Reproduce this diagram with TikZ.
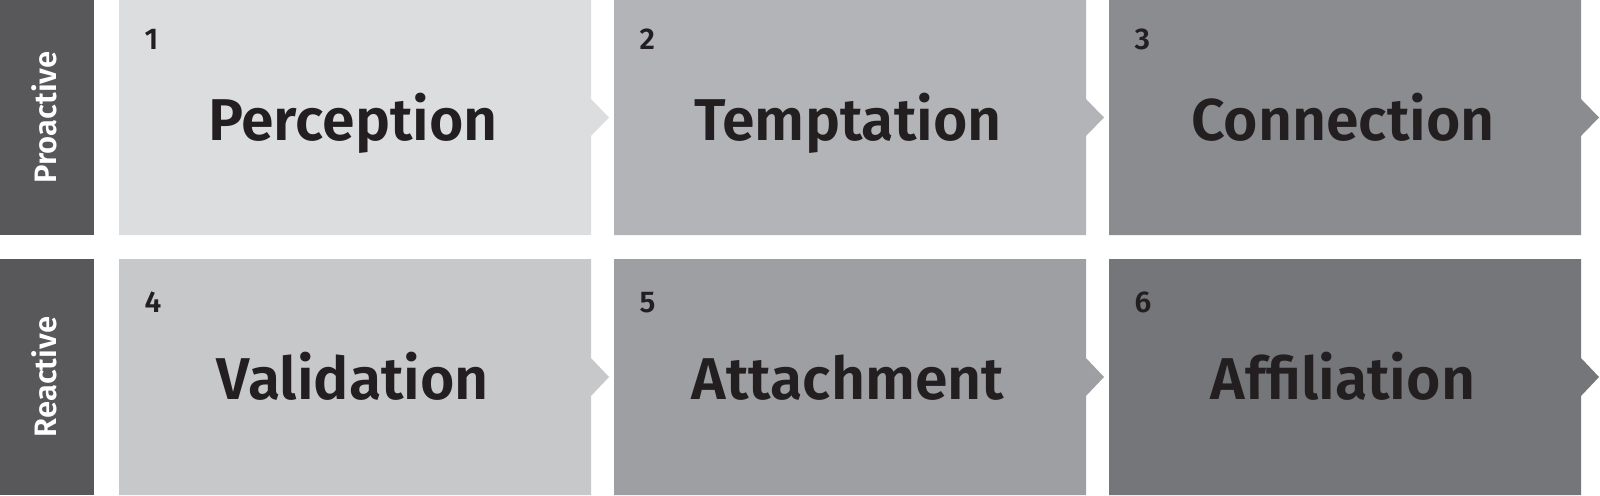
\documentclass[tikz,border=0pt]{standalone}
\usepackage{fontspec}
\setmainfont{Fira Sans}[BoldFont={Fira Sans SemiBold}]
\usepackage{tikz}

\definecolor{barGray}{HTML}{58585A}
\definecolor{textDark}{HTML}{231F20}
\definecolor{stepA}{HTML}{DCDDDF}
\definecolor{stepB}{HTML}{B3B4B7}
\definecolor{stepC}{HTML}{8B8C8F}
\definecolor{stepD}{HTML}{C7C8CA}
\definecolor{stepE}{HTML}{9E9FA2}
\definecolor{stepF}{HTML}{757679}

\tikzset{
  sidelabel/.style={anchor=center, rotate=90, text=white, font=\fontsize{31}{36}\selectfont\bfseries},
  numlabel/.style={anchor=base west, text=textDark, font=\fontsize{30}{34}\selectfont\bfseries},
  steplabel/.style={anchor=base, text=textDark, font=\fontsize{59}{68}\selectfont\bfseries}
}

\begin{document}
\begin{tikzpicture}[x=1pt, y=-1pt]
\useasboundingbox (0,0) rectangle (1600,495);

% row labels
\fill[barGray] (0,0) rectangle (94,235);
\fill[barGray] (0,259) rectangle (94,495);
\node[sidelabel] (pro) at (44,117.5) {Proactive};
\node[sidelabel] (rea) at (44,377) {Reactive};

% proactive row
\fill[stepA] (119,0) -- (591,0) -- (591,99) -- (609,117.5) -- (591,136) -- (591,235) -- (119,235) -- cycle;
\fill[stepB] (614,0) -- (1086,0) -- (1086,99) -- (1104,117.5) -- (1086,136) -- (1086,235) -- (614,235) -- cycle;
\fill[stepC] (1109,0) -- (1581,0) -- (1581,99) -- (1599,117.5) -- (1581,136) -- (1581,235) -- (1109,235) -- cycle;

% reactive row
\fill[stepD] (119,259) -- (591,259) -- (591,358) -- (609,377) -- (591,396) -- (591,495) -- (119,495) -- cycle;
\fill[stepE] (614,259) -- (1086,259) -- (1086,358) -- (1104,377) -- (1086,396) -- (1086,495) -- (614,495) -- cycle;
\fill[stepF] (1109,259) -- (1581,259) -- (1581,358) -- (1599,377) -- (1581,396) -- (1581,495) -- (1109,495) -- cycle;

\node[numlabel] (n1) at (141,49) {1};
\node[numlabel] (n2) at (636,49) {2};
\node[numlabel] (n3) at (1131,49) {3};
\node[numlabel] (n4) at (141,312) {4};
\node[numlabel] (n5) at (636,312) {5};
\node[numlabel] (n6) at (1131,312) {6};

\node[steplabel] (perception) at (353,140) {Perception};
\node[steplabel] (temptation) at (848,140) {Temptation};
\node[steplabel] (connection) at (1343,140) {Connection};
\node[steplabel] (validation) at (353,399) {Validation};
\node[steplabel] (attachment) at (848,399) {Attachment};
\node[steplabel] (affiliation) at (1343,399) {Affiliation};
\end{tikzpicture}
\end{document}
